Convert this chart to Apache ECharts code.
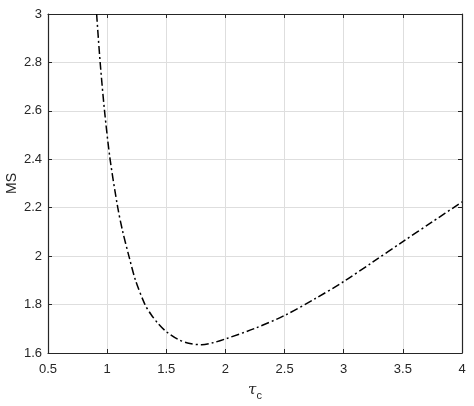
<!DOCTYPE html>
<html>
<head>
    <meta charset="utf-8">
    <title>MS vs tau_c</title>
    <script src="https://cdn.jsdelivr.net/npm/echarts@6/dist/echarts.min.js"></script>
    <style>
        html, body { margin: 0; padding: 0; background: #fff; }
    </style>
</head>
<body>
    <div id="chart" style="width: 474px; height: 406px;"></div>
    <script type="text/javascript">
        // values
        var tauC = [0.911, 0.941, 0.978, 1.025, 1.09, 1.13, 1.184, 1.24, 1.32, 1.37, 1.43, 1.5, 1.6, 1.7, 1.8, 1.9, 2.0, 2.25, 2.5, 2.75, 3.0, 3.25, 3.5, 3.75, 4.0];
        var msValues = [3.0, 2.8, 2.6, 2.4, 2.2, 2.105, 2.0, 1.90, 1.8, 1.76, 1.722, 1.688, 1.656, 1.639, 1.634, 1.643, 1.658, 1.702, 1.755, 1.822, 1.895, 1.977, 2.06, 2.142, 2.224];

        var xMin = 0.5, xMax = 4, xStep = 0.5;
        var yMin = 1.6, yMax = 3, yStep = 0.2;

        var points = tauC.map(function (t, i) { return [t, msValues[i]]; });

        var axisColor = '#262626';
        var labelFont = { color: '#262626', fontSize: 13, fontFamily: 'Liberation Sans, Arial, sans-serif' };

        var chart = echarts.init(document.getElementById('chart'));
        var option = {
            animation: false,
            grid: { left: 48, right: 12, top: 14, bottom: 53, containLabel: false, outerBoundsMode: 'none' },
            xAxis: [{
                type: 'value', min: xMin, max: xMax, interval: xStep,
                axisLine: { show: true, onZero: false, lineStyle: { color: axisColor, width: 1.2 } },
                axisTick: { show: true, inside: true, length: 4, lineStyle: { color: axisColor } },
                axisLabel: Object.assign({ margin: 10, formatter: function (v) { return String(v); } }, labelFont),
                splitLine: { show: true, lineStyle: { color: '#dedede', width: 1 } },
                name: '{t|τ}{s|c}',
                nameLocation: 'middle',
                nameGap: 27,
                nameMoveOverlap: false,
                nameTextStyle: {
                    rich: {
                        t: { fontSize: 15, fontStyle: 'italic', fontFamily: 'DejaVu Serif, serif', color: '#262626' },
                        s: { fontSize: 11, fontFamily: 'Liberation Sans, Arial, sans-serif', color: '#262626', padding: [10, 0, 0, 0] }
                    }
                }
            }, {
                type: 'value', position: 'top', min: xMin, max: xMax, interval: xStep,
                axisLine: { show: true, onZero: false, lineStyle: { color: axisColor, width: 1.2 } },
                axisTick: { show: true, inside: true, length: 4, lineStyle: { color: axisColor } },
                axisLabel: { show: false },
                splitLine: { show: false }
            }],
            yAxis: [{
                type: 'value', min: yMin, max: yMax, interval: yStep,
                axisLine: { show: true, onZero: false, lineStyle: { color: axisColor, width: 1.2 } },
                axisTick: { show: true, inside: true, length: 4, lineStyle: { color: axisColor } },
                axisLabel: Object.assign({ margin: 6, formatter: function (v) { return String(+v.toFixed(1)); } }, labelFont),
                splitLine: { show: true, lineStyle: { color: '#dedede', width: 1 } },
                name: 'MS',
                nameLocation: 'middle',
                nameGap: 29,
                nameMoveOverlap: false,
                nameTextStyle: { color: '#262626', fontSize: 14, fontFamily: 'Liberation Sans, Arial, sans-serif' }
            }, {
                type: 'value', position: 'right', min: yMin, max: yMax, interval: yStep,
                axisLine: { show: true, onZero: false, lineStyle: { color: axisColor, width: 1.2 } },
                axisTick: { show: true, inside: true, length: 4, lineStyle: { color: axisColor } },
                axisLabel: { show: false },
                splitLine: { show: false }
            }],
            series: [{
                type: 'line',
                data: points,
                smooth: 0.3,
                showSymbol: false,
                clip: true,
                lineStyle: { color: '#000', width: 1.5, type: [8, 3, 2, 3] }
            }]
        };
        chart.setOption(option);
    </script>
</body>
</html>
